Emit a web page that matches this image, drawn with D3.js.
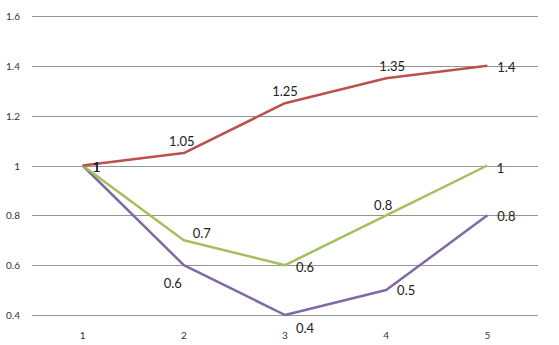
<!DOCTYPE html>
<html lang="en">
  <head>
    <meta charset="UTF-8" />
    <title>Line chart</title>
    <script src="https://d3js.org/d3.v7.min.js"></script>
    <style>
      body {
        margin: 0;
        background-color: #fff;
      }
      svg {
        display: block;
        font-family: Lato, "Open Sans", sans-serif;
      }
      .grid line {
        stroke: #949494;
        stroke-width: 1;
      }
      .tick-label {
        fill: #333;
        font-size: 10px;
      }
      .value-label {
        fill: #222;
        font-size: 13px;
      }
    </style>
  </head>
  <body>
    <svg width="559" height="345"></svg>

    <script>
      const categories = [1, 2, 3, 4, 5];
      const yTicks = [0.4, 0.6, 0.8, 1, 1.2, 1.4, 1.6];
      const redValues = [1, 1.05, 1.25, 1.35, 1.4];
      const greenValues = [1, 0.7, 0.6, 0.8, 1];
      const purpleValues = [1, 0.6, 0.4, 0.5, 0.8];

      // label offsets from each point, [dx, dy]
      const redOffsets = [[14, 1], [-2, -12], [0, -12], [6, -12], [19, 1]];
      const greenOffsets = [[14, 1], [18, -7], [20, 2], [-3, -10], [13, 2]];
      const purpleOffsets = [[14, 1], [-11, 18], [20, 13], [20, 0], [19, 1]];

      const series = [
        { name: "purple", values: purpleValues, offsets: purpleOffsets, color: "#7f6aa6" },
        { name: "green", values: greenValues, offsets: greenOffsets, color: "#a3c05c" },
        { name: "red", values: redValues, offsets: redOffsets, color: "#bd4f4c" },
      ];

      const svg = d3.select("svg");
      const plotLeft = 32, plotRight = 538, plotTop = 16, plotBottom = 315;

      const x = d3.scalePoint().domain(categories).range([plotLeft, plotRight]).padding(0.5);
      const y = d3.scaleLinear().domain([0.4, 1.6]).range([plotBottom, plotTop]);

      // gridlines
      svg.append("g")
        .attr("class", "grid")
        .selectAll("line")
        .data(yTicks)
        .join("line")
        .attr("x1", plotLeft)
        .attr("x2", plotRight)
        .attr("y1", (d) => Math.round(y(d)) + 0.5)
        .attr("y2", (d) => Math.round(y(d)) + 0.5);

      // y tick labels
      svg.append("g")
        .selectAll("text")
        .data(yTicks)
        .join("text")
        .attr("class", "tick-label")
        .attr("x", 20)
        .attr("y", (d) => y(d))
        .attr("text-anchor", "end")
        .attr("dominant-baseline", "central")
        .text((d) => d);

      // x tick labels
      svg.append("g")
        .selectAll("text")
        .data(categories)
        .join("text")
        .attr("class", "tick-label")
        .attr("x", (d) => x(d))
        .attr("y", 335)
        .attr("text-anchor", "middle")
        .attr("dominant-baseline", "central")
        .text((d) => d);

      const line = d3.line()
        .x((d, i) => x(categories[i]))
        .y((d) => y(d));

      series.forEach((s) => {
        svg.append("path")
          .datum(s.values)
          .attr("fill", "none")
          .attr("stroke", s.color)
          .attr("stroke-width", 2.5)
          .attr("stroke-linejoin", "round")
          .attr("d", line);
      });

      series.forEach((s) => {
        svg.append("g")
          .selectAll("text")
          .data(s.values)
          .join("text")
          .attr("class", "value-label")
          .attr("x", (d, i) => x(categories[i]) + s.offsets[i][0])
          .attr("y", (d, i) => y(d) + s.offsets[i][1])
          .attr("text-anchor", "middle")
          .attr("dominant-baseline", "central")
          .text((d) => d);
      });
    </script>
  </body>
</html>
